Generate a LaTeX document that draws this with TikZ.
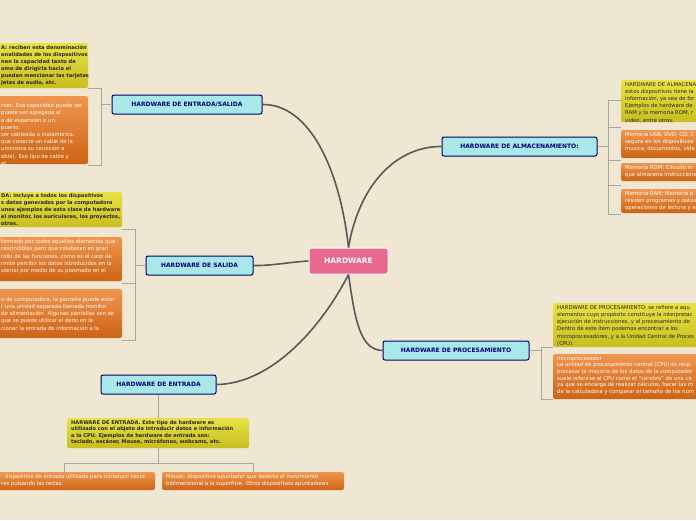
\documentclass[tikz,border=0pt]{standalone}
\usepackage{fontspec}
\setmainfont{DejaVu Sans}
\begin{document}
\begin{tikzpicture}[x=1pt,y=-1pt,
  branch/.style={draw=blue!40!black,line width=1pt,fill={rgb,255:red,168;green,232;blue,232},rounded corners=2pt,minimum height=19pt,font=\fontsize{6}{7}\selectfont\bfseries,text=blue!50!black,inner sep=0pt},
  leafY/.style={rounded corners=2pt,top color={rgb,255:red,232;green,226;blue,70},bottom color={rgb,255:red,200;green,190;blue,30}},
  leafO/.style={rounded corners=2pt,top color={rgb,255:red,240;green,150;blue,80},bottom color={rgb,255:red,205;green,100;blue,20}},
  tY/.style={anchor=north west,align=left,inner sep=0pt,font=\fontsize{5.3}{7.2}\selectfont,text=black!85},
  tO/.style={tY,text=white},
  brk/.style={draw=black!35,line width=0.8pt},
  conn/.style={draw=black!65,line width=1.6pt}]
\useasboundingbox (0,0) rectangle (696,520);
\clip (0,0) rectangle (696,520);
\definecolor{bg}{HTML}{EFE7D2}\fill[bg] (0,0) rectangle (696,520);
% center
\node[draw=white,line width=1pt,fill={rgb,255:red,232;green,104;blue,143},rounded corners=2pt,minimum width=79pt,minimum height=26pt,font=\fontsize{7.5}{9}\selectfont\bfseries,text=white] (hw) at (348.5,261) {HARDWARE};
% branches
\node[branch,minimum width=150pt] (es) at (187,104.5) {HARDWARE DE ENTRADA/SALIDA};
\node[branch,minimum width=155pt] (alm) at (519.5,146.5) {HARDWARE DE ALMACENAMIENTO:};
\node[branch,minimum width=107pt] (sal) at (199.5,265.5) {HARDWARE DE SALIDA};
\node[branch,minimum width=146pt] (pro) at (456,350.5) {HARDWARE DE PROCESAMIENTO};
\node[branch,minimum width=115pt] (ent) at (158.5,384.5) {HARDWARE DE ENTRADA};
% connectors
\draw[conn] (hw.north) .. controls (340,170) and (310,104) .. (es.east);
\draw[conn] (hw.north) .. controls (360,180) and (400,146) .. (alm.west);
\draw[conn] (hw.west) .. controls (290,262) and (270,266) .. (sal.east);
\draw[conn] (hw.south) .. controls (355,320) and (360,350) .. (pro.west);
\draw[conn] (hw.south) .. controls (320,330) and (270,384) .. (ent.east);
% E/S leaves
\path[leafY] (-5,43) rectangle (88,88);
\node[tY,font=\fontsize{5.1}{7.1}\selectfont\bfseries] (esy) at (1,45) {A: reciben esta denominación\\onalidades de los dispositivos\\nen la capacidad tanto de\\omo de dirigirla hacia el\\puedan mencionar las tarjetas\\jetas de audio, etc.};
\path[leafO] (-5,96) rectangle (88,164);
\node[tO] (eso) at (1,103.5) {rnet. Esa capacidad puede ser\\puede ser agregada al\\a de expansión o un\\puerto.\\ser cableada o inalámbrica.\\que conecte un cable de la\\uministra su conexión a\\able). Ese tipo de cable y\\et.};
\coordinate (esb) at (101,104.5);
\draw[brk] (88,88) -| (101,165) -- (88,165);
\draw[brk] (es.west) -- (esb);
% Salida leaves
\path[leafY] (-5,192) rectangle (122,227);
\node[tY,font=\fontsize{5.1}{6.9}\selectfont\bfseries] (say) at (1,193.5) {DA: incluye a todos los dispositivos\\s datos generados por la computadora\\unos ejemplos de esta clase de hardware\\el monitor, los auriculares, los proyectos,\\otros.};
\path[leafO] (-5,237) rectangle (122,281);
\node[tO] (sao1) at (1,239.5) {formado por todos aquellos elementos que\\rescindibles pero que colaboran en gran\\rollo de las funciones, como es el caso de\\rmite percibir los datos introducidos en la\\xterior por medio de su plasmado en el};
\path[leafO] (-5,289) rectangle (122,338);
\node[tO] (sao2) at (1,297) {o de computadora, la pantalla puede estar\\r una unidad separada llamada monitor\\de alimentación. Algunas pantallas son de\\que se puede utilizar el dedo en la\\cionar la entrada de información a la};
\draw[brk] (122,229) -| (135,340) -- (122,340);
\draw[brk] (122,283) -- (135,283);
\draw[brk] (sal.west) -- (135,265.5);
% Almacenamiento leaves
\path[leafY] (621,80) rectangle (720,122);
\node[tY] (aly) at (625,82) {HARDWARE DE ALMACENA\\estos dispositivos tiene la\\información, ya sea de for\\Ejemplos de hardware de\\RAM y la memoria ROM, r\\video, entre otros.};
\path[leafO] (621,130) rectangle (720,158);
\node[tO] (alo1) at (625,132) {Memoria USB, DVD, CD: C\\segura en los dispositivos\\musica, documentos, vide};
\path[leafO] (621,163) rectangle (720,181);
\node[tO] (alo2) at (625,165) {Memoria ROM: Circuito in\\que almacena instruccione};
\path[leafO] (621,189) rectangle (720,213);
\node[tO] (alo3) at (625,191) {Memoria RAM: Memoria p\\residen programas y datos\\operaciones de lectura y e};
\draw[brk] (621,100) -| (608,214) -- (621,214);
\draw[brk] (608,127) -- (621,127);
\draw[brk] (608,160) -- (621,160);
\draw[brk] (608,185) -- (621,185);
\draw[brk] (alm.east) -- (608,146.5);
% Procesamiento leaves
\path[leafY] (553,303) rectangle (720,347);
\node[tY] (pry) at (557,305) {HARDWARE DE PROCESAMIENTO: se refiere a aqu\\elementos cuyo propósito constituye la interpretac\\ejecución de instrucciones, y el procesamiento de\\Dentro de este ítem podemos encontrar a los\\microprocesadores, y a la Unidad Central de Proces\\(CPU).};
\path[leafO] (553,354) rectangle (720,399);
\node[tO,font=\fontsize{5.3}{6.6}\selectfont] (pro1) at (557,356) {microprocesador\\La unidad de procesamiento central (CPU) es resp\\procesar la mayoría de los datos de la computador\\suele referirse al CPU como el “cerebro” de una co\\ya que se encarga de realizar cálculos, hacer las m\\de la calculadora y comparar el tamaño de los núm};
\draw[brk] (pro.east) -- (541,350.5);
\draw[brk] (553,347) -| (541,399) -- (553,399);
% Entrada leaves
\path[leafY] (67,418) rectangle (249,448);
\node[tY,font=\fontsize{5.1}{6.6}\selectfont\bfseries] (eny) at (71,420) {HARWARE DE ENTRADA. Este tipo de hardware es\\utilizado con el objeto de introducir datos e información\\a la CPU. Ejemplos de hardware de entrada son:\\teclado, escáner, Mouse, micrófonos, webcams, etc.};
\draw[brk] (ent.south) -- (158.5,418);
\draw[brk] (158.5,448) -- (158.5,463);
\draw[brk] (64,472) |- (253,463) -- (253,472);
\path[leafO] (-5,472) rectangle (155,490);
\node[tO] (enl) at (1,474) {: dispositivo de entrada utilizado para introducir texto\\res pulsando las teclas.};
\path[leafO] (162,472) rectangle (344,490);
\node[tO] (enr) at (166,474) {Mouse: dispositivo apuntador que detecta el movimiento\\bidimensional a la superficie. Otros dispositivos apuntadores};
\end{tikzpicture}
\end{document}
